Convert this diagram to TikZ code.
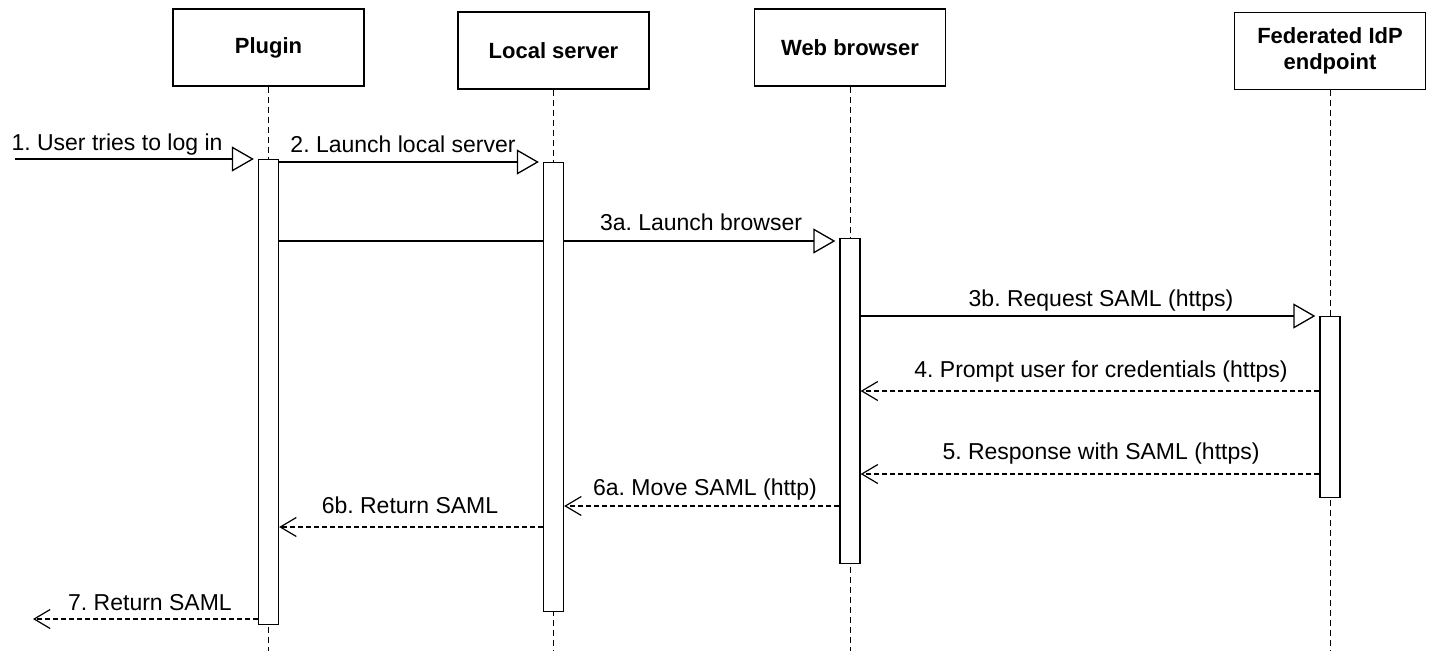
\documentclass[tikz,border=0pt]{standalone}
\usepackage{fontspec}
\setmainfont{Liberation Sans}
\usetikzlibrary{arrows.meta}
\frenchspacing
\tikzset{
  head/.style={draw, line width=1.4pt, fill=white, minimum width=191pt, minimum height=77pt, inner sep=0pt, font=\fontsize{22}{26}\selectfont\bfseries, align=center},
  actbar/.style={draw, line width=1.3pt, fill=white, anchor=north, minimum width=20pt, inner sep=0pt},
  life/.style={line width=1pt, dash pattern=on 6pt off 4pt},
  sync/.style={line width=1.4pt, shorten >=4pt, -{Triangle[open,length=22pt,width=25pt,line width=1.3pt]}},
  ret/.style={line width=1.2pt, dash pattern=on 5pt off 3pt, -{Straight Barb[length=16pt,width=19pt,line width=1.2pt]}},
  msg/.style={inner sep=0pt, anchor=base, font=\fontsize{23}{27}\selectfont},
}
\begin{document}
\begin{tikzpicture}[x=1pt,y=-1pt]
\useasboundingbox[fill=white] (0,0) rectangle (1429,651);
% participants
\node[head] (plugin) at (268.5,47.5) {Plugin};
\node[head] (local) at (553.5,50.5) {Local server};
\node[head] (web) at (850,47.5) {Web browser};
\node[head] (idp) at (1330,51) {Federated IdP\\endpoint};
\coordinate (bottom) at (0,651);
% lifelines
\draw[life] (plugin.south) -- (plugin.south |- bottom);
\draw[life] (local.south) -- (local.south |- bottom);
\draw[life] (web.south) -- (web.south |- bottom);
\draw[life] (idp.south) -- (idp.south |- bottom);
% coordinates for free ends and rows
\coordinate (u1) at (15,159);
\coordinate (u7) at (33,619);
\coordinate (r3a) at (0,241);
\coordinate (r4) at (0,391);
\coordinate (r5) at (0,474);
\coordinate (r6a) at (0,506);
\coordinate (r6b) at (0,527);
% activation bars
\node[actbar, minimum height=465pt] (pbar) at (268.5,159) {};
\node[actbar, minimum height=449pt] (lbar) at (553.5,162) {};
\node[actbar, minimum height=325pt] (wbar) at (850,238) {};
\node[actbar, minimum height=181pt] (fbar) at (1330,316) {};
% messages
\draw[sync] (u1) -- (pbar.north west);
\draw[sync] (pbar.east |- lbar.north) -- (lbar.north west);
\draw[line width=1.4pt] (pbar.east |- r3a) -- (lbar.west |- r3a);
\draw[sync] (lbar.east |- r3a) -- (wbar.west |- r3a);
\draw[sync] (wbar.east |- fbar.north) -- (fbar.north west);
\draw[ret] (fbar.west |- r4) -- (wbar.east |- r4);
\draw[ret] (fbar.west |- r5) -- (wbar.east |- r5);
\draw[ret] (wbar.west |- r6a) -- (lbar.east |- r6a);
\draw[ret] (lbar.west |- r6b) -- (pbar.east |- r6b);
\draw[ret] (pbar.west |- u7) -- (u7);
% labels
\node[msg] (l1) at (117,150) {1. User tries to log in};
\node[msg] (l2) at (403,152) {2. Launch local server};
\node[msg] (l3a) at (701,230) {3a. Launch browser};
\node[msg] (l3b) at (1101,306) {3b. Request SAML (https)};
\node[msg] (l4) at (1101,377) {4. Prompt user for credentials (https)};
\node[msg] (l5) at (1101,459) {5. Response with SAML (https)};
\node[msg] (l6a) at (705,495) {6a. Move SAML (http)};
\node[msg] (l6b) at (410,513) {6b. Return SAML};
\node[msg] (l7) at (150,610) {7. Return SAML};
\end{tikzpicture}
\end{document}
